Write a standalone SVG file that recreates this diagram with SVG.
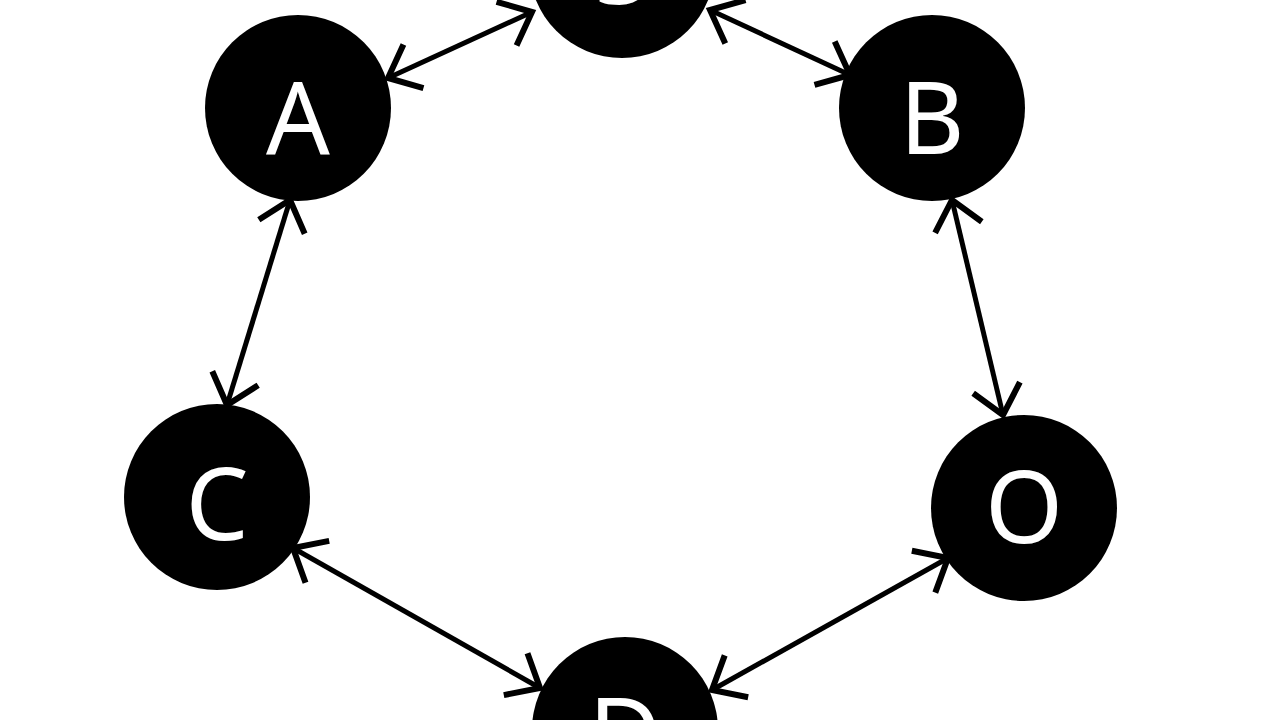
<svg xmlns="http://www.w3.org/2000/svg" width="1280" height="720" viewBox="0 0 1280 720">
<style>
.n{fill:#000}
.t{fill:#fff;font-family:"Noto Sans",sans-serif;font-size:100px;text-anchor:middle}
.e{stroke:#000;stroke-width:5;fill:none;marker-start:url(#h);marker-end:url(#h)}
</style>
<defs>
<marker id="h" markerUnits="userSpaceOnUse" viewBox="-40 -30 45 60" markerWidth="45" markerHeight="60" refX="0" refY="0" orient="auto-start-reverse" overflow="visible">
<path d="M-28,-24 L0,0 L-28,24" fill="none" stroke="#000" stroke-width="6"/>
</marker>
</defs>
<rect width="1280" height="720" fill="#fff"/>
<g id="connectors">
<line class="e" x1="388" y1="78" x2="532" y2="12"/>
<line class="e" x1="710" y1="10" x2="850" y2="75"/>
<line class="e" x1="952" y1="200" x2="1003" y2="415"/>
<line class="e" x1="948" y1="558" x2="712" y2="690"/>
<line class="e" x1="540" y1="688" x2="293" y2="548"/>
<line class="e" x1="227" y1="405" x2="290" y2="200"/>
</g>
<g id="node-top"><circle class="n" cx="622" cy="-35" r="93"/><text class="t" x="622" y="4">S</text></g>
<g id="node-A"><circle class="n" cx="298" cy="108" r="93"/><text class="t" x="298" y="154">A</text></g>
<g id="node-B"><circle class="n" cx="932" cy="108" r="93"/><text class="t" x="932" y="154">B</text></g>
<g id="node-O"><circle class="n" cx="1024" cy="508" r="93"/><text class="t" x="1024" y="543">O</text></g>
<g id="node-C"><circle class="n" cx="217" cy="497" r="93"/><text class="t" x="217" y="540">C</text></g>
<g id="node-D"><circle class="n" cx="625" cy="730" r="93"/><text class="t" x="625" y="770">D</text></g>
</svg>
